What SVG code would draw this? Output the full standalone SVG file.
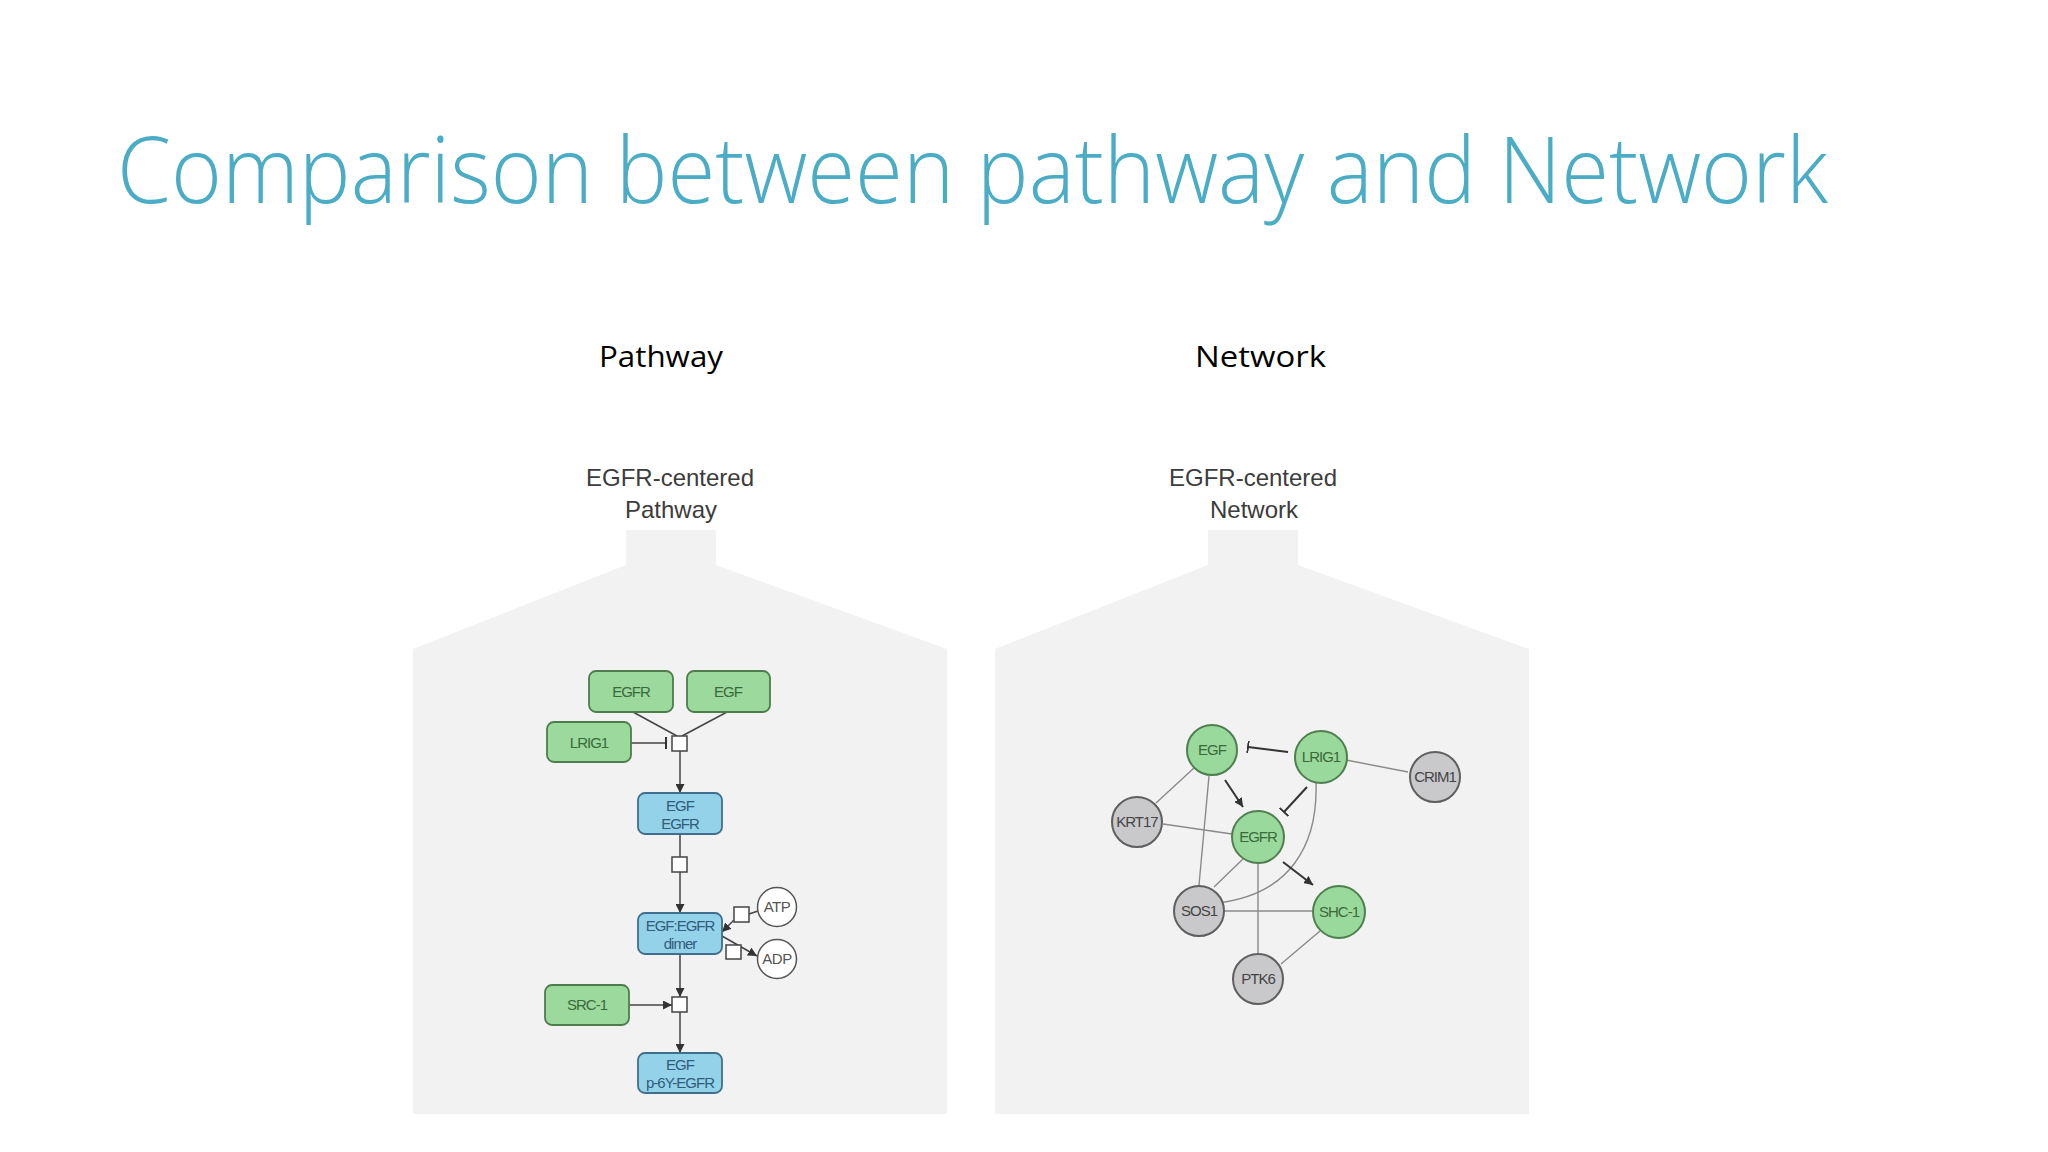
<svg xmlns="http://www.w3.org/2000/svg" width="2048" height="1152" viewBox="0 0 2048 1152">
  <defs>
    <style>
      .title { font-family: "Open Sans", "Liberation Sans", sans-serif; font-weight: 300; font-size: 92px; fill: #4BACC6; }
      .sub { font-family: "Open Sans", "Liberation Sans", sans-serif; font-size: 30px; fill: #000; }
      .cap { font-family: "Liberation Sans", Arial, sans-serif; font-size: 24px; fill: #3c3c3c; text-anchor: middle; }
      .panel { fill: #f2f2f2; }
      .gbox { fill: #9bd99d; stroke: #4d7d4d; stroke-width: 1.8; }
      .bbox { fill: #94d2ea; stroke: #3f6f8c; stroke-width: 1.8; }
      .gtxt { font-family: "Liberation Sans", Arial, sans-serif; font-size: 15px; fill: #3a6a3a; text-anchor: middle; letter-spacing: -1px; }
      .btxt { font-family: "Liberation Sans", Arial, sans-serif; font-size: 15px; fill: #2f5d7a; text-anchor: middle; letter-spacing: -1px; }
      .sq { fill: #ffffff; stroke: #444; stroke-width: 1.5; }
      .mol { fill: #ffffff; stroke: #555; stroke-width: 1.5; }
      .moltxt { font-family: "Liberation Sans", Arial, sans-serif; font-size: 15px; fill: #555; text-anchor: middle; letter-spacing: -0.5px; }
      .pl { stroke: #444; stroke-width: 1.5; fill: none; }
      .gn { fill: #9ad99c; stroke: #4f7f4f; stroke-width: 2; }
      .nn { fill: #c9c9cb; stroke: #5f5f5f; stroke-width: 2; }
      .ntxt { font-family: "Liberation Sans", Arial, sans-serif; font-size: 15px; text-anchor: middle; letter-spacing: -1px; }
      .ne { stroke: #8a8a8a; stroke-width: 1.4; fill: none; }
      .na { stroke: #333; stroke-width: 2; fill: none; }
    </style>
    <marker id="arr" viewBox="0 0 10 10" refX="10" refY="5" markerWidth="9" markerHeight="9" markerUnits="userSpaceOnUse" orient="auto">
      <path d="M0,0 L10,5 L0,10 z" fill="#333"/>
    </marker>
    <marker id="tee" viewBox="0 -6 2 12" refX="1" refY="0" markerWidth="2" markerHeight="12" markerUnits="userSpaceOnUse" orient="auto">
      <path d="M1,-6 L1,6" stroke="#333" stroke-width="2"/>
    </marker>
  </defs>

  <rect width="2048" height="1152" fill="#ffffff"/>

  <text class="title" x="117" y="203" textLength="1711" lengthAdjust="spacingAndGlyphs">Comparison between pathway and Network</text>
  <text class="sub" x="599" y="367" textLength="124" lengthAdjust="spacingAndGlyphs">Pathway</text>
  <text class="sub" x="1195" y="367" textLength="131" lengthAdjust="spacingAndGlyphs">Network</text>

  <!-- panels -->
  <path class="panel" d="M626,530 L716,530 L716,565 L947,649 L947,1114 L413,1114 L413,649 L626,565 Z"/>
  <path class="panel" d="M1208,530 L1298,530 L1298,565 L1529,649 L1529,1114 L995,1114 L995,649 L1208,565 Z"/>

  <text class="cap" x="670" y="486">EGFR-centered</text>
  <text class="cap" x="671" y="518">Pathway</text>
  <text class="cap" x="1253" y="486">EGFR-centered</text>
  <text class="cap" x="1254" y="518">Network</text>

  <!-- pathway connectors -->
  <g id="pathway-connectors">
    <line class="pl" x1="633" y1="712" x2="677" y2="736"/>
    <line class="pl" x1="727" y1="712" x2="682" y2="736"/>
    <line class="pl" x1="631" y1="743" x2="666" y2="743" marker-end="url(#tee)"/>
    <line class="pl" x1="680" y1="751" x2="680" y2="793" marker-end="url(#arr)"/>
    <line class="pl" x1="680" y1="834" x2="680" y2="857"/>
    <line class="pl" x1="680" y1="872" x2="680" y2="913" marker-end="url(#arr)"/>
    <line class="pl" x1="758" y1="911" x2="749" y2="914"/>
    <line class="pl" x1="734" y1="920" x2="722" y2="932" marker-end="url(#arr)"/>
    <line class="pl" x1="722" y1="936" x2="757" y2="956" marker-end="url(#arr)"/>
    <line class="pl" x1="680" y1="954" x2="680" y2="997" marker-end="url(#arr)"/>
    <line class="pl" x1="629" y1="1005" x2="672" y2="1005" marker-end="url(#arr)"/>
    <line class="pl" x1="680" y1="1012" x2="680" y2="1053" marker-end="url(#arr)"/>
  </g>

  <!-- pathway nodes -->
  <g id="p-egfr"><rect class="gbox" x="589" y="671" width="84" height="41" rx="7"/><text class="gtxt" x="631" y="697">EGFR</text></g>
  <g id="p-egf"><rect class="gbox" x="687" y="671" width="83" height="41" rx="7"/><text class="gtxt" x="728" y="697">EGF</text></g>
  <g id="p-lrig1"><rect class="gbox" x="547" y="722" width="84" height="40" rx="7"/><text class="gtxt" x="589" y="748">LRIG1</text></g>
  <g id="p-j1"><rect class="sq" x="672" y="736" width="15" height="15"/></g>
  <g id="p-egf-egfr"><rect class="bbox" x="638" y="793" width="84" height="41" rx="7"/><text class="btxt" x="680" y="811">EGF</text><text class="btxt" x="680" y="829">EGFR</text></g>
  <g id="p-j2"><rect class="sq" x="672" y="857" width="15" height="15"/></g>
  <g id="p-dimer"><rect class="bbox" x="638" y="913" width="84" height="41" rx="7"/><text class="btxt" x="680" y="931">EGF:EGFR</text><text class="btxt" x="680" y="949">dimer</text></g>
  <g id="p-j-atp"><rect class="sq" x="734" y="907" width="15" height="15"/></g>
  <g id="p-j-adp"><rect class="sq" x="726" y="945" width="15" height="14"/></g>
  <g id="p-atp"><circle class="mol" cx="777" cy="907" r="19.5"/><text class="moltxt" x="777" y="912">ATP</text></g>
  <g id="p-adp"><circle class="mol" cx="777" cy="959" r="19.5"/><text class="moltxt" x="777" y="964">ADP</text></g>
  <g id="p-src1"><rect class="gbox" x="545" y="985" width="84" height="40" rx="7"/><text class="gtxt" x="587" y="1010">SRC-1</text></g>
  <g id="p-j3"><rect class="sq" x="672" y="997" width="15" height="15"/></g>
  <g id="p-p6y"><rect class="bbox" x="638" y="1053" width="84" height="40" rx="7"/><text class="btxt" x="680" y="1070">EGF</text><text class="btxt" x="680" y="1088">p-6Y-EGFR</text></g>

  <!-- network connectors -->
  <g id="network-connectors">
    <line class="ne" x1="1194" y1="768" x2="1156" y2="803"/>
    <line class="ne" x1="1209" y1="776" x2="1199" y2="885"/>
    <line class="ne" x1="1163" y1="824" x2="1232" y2="834"/>
    <line class="ne" x1="1346" y1="760" x2="1408" y2="772"/>
    <line class="ne" x1="1243" y1="859" x2="1214" y2="887"/>
    <line class="ne" x1="1258" y1="863" x2="1258" y2="953"/>
    <line class="ne" x1="1225" y1="911" x2="1313" y2="911"/>
    <line class="ne" x1="1320" y1="931" x2="1281" y2="964"/>
    <path class="ne" d="M1316,783 C1318,845 1290,895 1217,903"/>
    <line class="na" x1="1225" y1="780" x2="1243" y2="807" marker-end="url(#arr)"/>
    <line class="na" x1="1283" y1="862" x2="1313" y2="885" marker-end="url(#arr)"/>
    <line class="na" x1="1288" y1="752" x2="1248" y2="747" marker-end="url(#tee)"/>
    <line class="na" x1="1307" y1="787" x2="1284" y2="812" marker-end="url(#tee)"/>
  </g>

  <!-- network nodes -->
  <g id="n-egf"><circle class="gn" cx="1212" cy="750" r="25"/><text class="ntxt" x="1212" y="755" fill="#3a6a3a">EGF</text></g>
  <g id="n-lrig1"><circle class="gn" cx="1321" cy="757" r="26"/><text class="ntxt" x="1321" y="762" fill="#3a6a3a">LRIG1</text></g>
  <g id="n-crim1"><circle class="nn" cx="1435" cy="777" r="25"/><text class="ntxt" x="1435" y="782" fill="#444">CRIM1</text></g>
  <g id="n-krt17"><circle class="nn" cx="1137" cy="822" r="25"/><text class="ntxt" x="1137" y="827" fill="#444">KRT17</text></g>
  <g id="n-egfr"><circle class="gn" cx="1258" cy="837" r="26"/><text class="ntxt" x="1258" y="842" fill="#3a6a3a">EGFR</text></g>
  <g id="n-sos1"><circle class="nn" cx="1199" cy="911" r="25"/><text class="ntxt" x="1199" y="916" fill="#444">SOS1</text></g>
  <g id="n-shc1"><circle class="gn" cx="1339" cy="912" r="26"/><text class="ntxt" x="1339" y="917" fill="#3a6a3a">SHC-1</text></g>
  <g id="n-ptk6"><circle class="nn" cx="1258" cy="979" r="25"/><text class="ntxt" x="1258" y="984" fill="#444">PTK6</text></g>
</svg>
